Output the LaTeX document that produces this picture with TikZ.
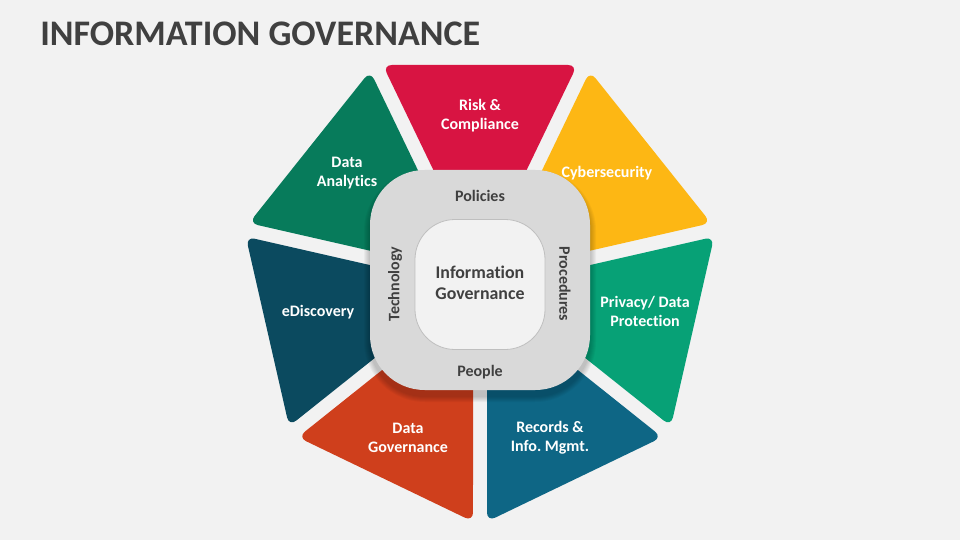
\documentclass[tikz,border=0pt]{standalone}
\usepackage{fontspec}
\setmainfont{Carlito}[Ligatures={NoCommon,NoRare}]
\frenchspacing
\definecolor{bgc}{HTML}{F2F2F2}
\definecolor{txtc}{HTML}{404040}
\definecolor{cred}{HTML}{D81442}
\definecolor{cyel}{HTML}{FDB714}
\definecolor{cgrn}{HTML}{07A176}
\definecolor{cblu}{HTML}{0E6685}
\definecolor{corg}{HTML}{CF3F1C}
\definecolor{cdtl}{HTML}{0B4A5F}
\definecolor{cdgn}{HTML}{077B5B}
\definecolor{ringc}{HTML}{D9D9D9}
\definecolor{innerc}{HTML}{F2F2F2}
\definecolor{innerb}{HTML}{BFBFBF}
\begin{document}
\frenchspacing
\begin{tikzpicture}[x=0.75pt,y=0.75pt,
  wedge/.style={rounded corners=6.75pt},
  lbl/.style={text=white, font=\bfseries\fontsize{12}{14.25}\selectfont, align=center, inner sep=0pt},
  ringlbl/.style={text=txtc, font=\bfseries\fontsize{12}{14}\selectfont, inner sep=0pt},
  corelbl/.style={text=txtc, font=\bfseries\fontsize{13.4}{15.75}\selectfont, align=center, inner sep=0pt}]
\useasboundingbox (0,0) rectangle (960,540);
\fill[bgc] (0,0) rectangle (960,540);
\node[anchor=base west, text=txtc, font=\bfseries\fontsize{27}{30}\selectfont, inner sep=0pt] (title) at (40,494) {INFORMATION GOVERNANCE};
% wedges
\foreach \ang/\col in {90/cred, 38.5714/cyel, -12.8571/cgrn, -64.2857/cblu, -115.7143/corg, -167.1429/cdtl, 141.4286/cdgn}{
  \fill[\col, wedge, shift={(480,257)}, rotate=\ang] (16.1,0) -- (218,97.2) -- (218,-97.2) -- cycle;
}
% shadow of ring
\foreach \i in {1,...,6}{
  \fill[black, opacity=0.035, rounded corners={41pt+0.75pt*\i}] (370-\i,367+\i-3) rectangle (590+\i,147-\i-3);
}
\node[draw=none, fill=ringc, rounded corners=41pt, minimum width=165pt, minimum height=165pt] (ring) at (480,260) {};
\node[draw=innerb, line width=0.6pt, fill=innerc, rounded corners=30pt, minimum width=97.5pt, minimum height=97.5pt] (core) at (480,255.5) {};
\node[corelbl] (coretext) at (480,257) {Information\\Governance};
\node[ringlbl] (pol) at (480,344) {Policies};
\node[ringlbl] (peo) at (480,168) {People};
\node[ringlbl, rotate=90] (tec) at (395,256) {Technology};
\node[ringlbl, rotate=-90] (pro) at (565,256) {Procedures};
% labels
\node[lbl] (risk) at (480,424) {Risk \&\\Compliance};
\node[lbl] (cyber) at (607,367) {Cybersecurity};
\node[lbl] (analytics) at (347,367) {Data\\Analytics};
\node[lbl] (edisc) at (318,228) {eDiscovery};
\node[lbl] (privacy) at (645,229) {Privacy/ Data\\Protection};
\node[lbl] (dgov) at (408,102) {Data\\Governance};
\node[lbl] (records) at (550,102) {Records \&\\Info. Mgmt.};
\end{tikzpicture}
\end{document}
